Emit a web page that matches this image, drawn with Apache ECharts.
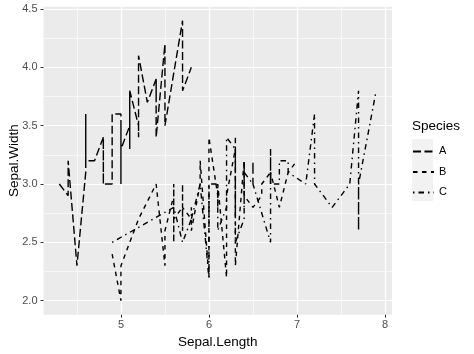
<!DOCTYPE html>
<html>
<head>
<meta charset="utf-8" />
<title></title>
<script src="https://cdn.jsdelivr.net/npm/echarts@6.0.0/dist/echarts.min.js"></script>
<style>
  html, body { margin: 0; padding: 0; background: #fff; }
  #main { width: 474px; height: 354px; }
</style>
</head>
<body>
<div id="main"></div>
<script type="text/javascript">
/* data: iris Sepal.Length / Sepal.Width by species, in row order */
var lenA = [5.1,4.9,4.7,4.6,5.0,5.4,4.6,5.0,4.4,4.9,5.4,4.8,4.8,4.3,5.8,5.7,5.4,5.1,5.7,5.1,5.4,5.1,4.6,5.1,4.8,5.0,5.0,5.2,5.2,4.7,4.8,5.4,5.2,5.5,4.9,5.0,5.5,4.9,4.4,5.1,5.0,4.5,4.4,5.0,5.1,4.8,5.1,4.6,5.3,5.0];
var widA = [3.5,3.0,3.2,3.1,3.6,3.9,3.4,3.4,2.9,3.1,3.7,3.4,3.0,3.0,4.0,4.4,3.9,3.5,3.8,3.8,3.4,3.7,3.6,3.3,3.4,3.0,3.4,3.5,3.4,3.2,3.1,3.4,4.1,4.2,3.1,3.2,3.5,3.6,3.0,3.4,3.5,2.3,3.2,3.5,3.8,3.0,3.8,3.2,3.7,3.3];
var lenB = [7.0,6.4,6.9,5.5,6.5,5.7,6.3,4.9,6.6,5.2,5.0,5.9,6.0,6.1,5.6,6.7,5.6,5.8,6.2,5.6,5.9,6.1,6.3,6.1,6.4,6.6,6.8,6.7,6.0,5.7,5.5,5.5,5.8,6.0,5.4,6.0,6.7,6.3,5.6,5.5,5.5,6.1,5.8,5.0,5.6,5.7,5.7,6.2,5.1,5.7];
var widB = [3.2,3.2,3.1,2.3,2.8,2.8,3.3,2.4,2.9,2.7,2.0,3.0,2.2,2.9,2.9,3.1,3.0,2.7,2.2,2.5,3.2,2.8,2.5,2.8,2.9,3.0,2.8,3.0,2.9,2.6,2.4,2.4,2.7,2.7,3.0,3.4,3.1,2.3,3.0,2.5,2.6,3.0,2.6,2.3,2.7,3.0,2.9,2.9,2.5,2.8];
var lenC = [6.3,5.8,7.1,6.3,6.5,7.6,4.9,7.3,6.7,7.2,6.5,6.4,6.8,5.7,5.8,6.4,6.5,7.7,7.7,6.0,6.9,5.6,7.7,6.3,6.7,7.2,6.2,6.1,6.4,7.2,7.4,7.9,6.4,6.3,6.1,7.7,6.3,6.4,6.0,6.9,6.7,6.9,5.8,6.8,6.7,6.7,6.3,6.5,6.2,5.9];
var widC = [3.3,2.7,3.0,2.9,3.0,3.0,2.5,2.9,2.5,3.6,3.2,2.7,3.0,2.5,2.8,3.2,3.0,3.8,2.6,2.2,3.2,2.8,2.8,2.7,3.3,3.2,2.8,3.0,2.8,3.0,2.8,3.8,2.8,2.8,2.6,3.0,3.4,3.1,3.0,3.1,3.1,3.1,2.7,3.2,3.3,3.0,2.5,3.0,3.4,3.0];

var speciesNames = ['A', 'B', 'C'];
var xTicks = [5, 6, 7, 8];
var xMinor = [4.5, 5.5, 6.5, 7.5];
var yTicks = [2.0, 2.5, 3.0, 3.5, 4.0, 4.5];
var yMinor = [2.25, 2.75, 3.25, 3.75, 4.25];

/* geom_line joins points in x order (stable sort keeps row order on ties) */
function pairs(xs, ys) {
    var p = xs.map(function (x, i) { return [x, ys[i]]; });
    return p.sort(function (a, b) { return a[0] - b[0]; });
}

var dashes = [[8, 3.5], [4.5, 4.5], [1.5, 4, 5.5, 4]];
var allData = [pairs(lenA, widA), pairs(lenB, widB), pairs(lenC, widC)];

var font = 'Liberation Sans, Arial, sans-serif';
var xMin = 4.12, xMax = 8.08, yMin = 1.88, yMax = 4.52;

function minorAxis(vals, extra) {
    return {
        type: 'value', min: extra.min, max: extra.max, position: extra.position,
        axisLine: { show: false, onZero: false },
        axisTick: { show: false, customValues: vals },
        axisLabel: { show: false, customValues: vals },
        splitLine: { show: true, lineStyle: { color: '#ffffff', width: 0.6 } }
    };
}

/* one legend block per key so the rows sit 20.5px apart like ggplot's keys */
var legendTops = [145, 165.5, 186];
var legends = speciesNames.map(function (name, i) {
    return {
        orient: 'vertical', left: 412, top: legendTops[i], padding: 0,
        itemWidth: 21, itemHeight: 16, itemGap: 0,
        itemStyle: { opacity: 0 },
        selectedMode: false,
        textStyle: { fontFamily: font, fontSize: 11, color: '#000' },
        data: [name]
    };
});

var chart = echarts.init(document.getElementById('main'), null, { renderer: 'canvas' });

var option = {
    animation: false,
    backgroundColor: '#ffffff',
    textStyle: { fontFamily: font },
    grid: {
        left: 43.5, right: 82, top: 6.7, bottom: 39.3,
        outerBoundsMode: 'none', containLabel: false,
        show: true, backgroundColor: '#EBEBEB', borderWidth: 0
    },
    title: {
        text: 'Species', left: 412, top: 119, padding: 0,
        textStyle: { fontFamily: font, fontSize: 13.5, fontWeight: 'normal', color: '#000' }
    },
    legend: legends,
    graphic: [{
        type: 'rect', left: 412, top: 139, z: -1,
        shape: { width: 21, height: 62 },
        style: { fill: '#F2F2F2' }
    }],
    xAxis: [{
        type: 'value', min: xMin, max: xMax,
        name: 'Sepal.Length', nameLocation: 'middle', nameGap: 19,
        nameTextStyle: { fontFamily: font, fontSize: 13.5, color: '#000' },
        axisLine: { show: false, onZero: false },
        axisTick: { show: true, length: 3, customValues: xTicks, lineStyle: { color: '#333333', width: 1 } },
        axisLabel: { customValues: xTicks, margin: 5, fontSize: 11, color: '#4D4D4D', fontFamily: font },
        splitLine: { show: true, lineStyle: { color: '#ffffff', width: 1.2 } }
    }, minorAxis(xMinor, { min: xMin, max: xMax, position: 'bottom' })],
    yAxis: [{
        type: 'value', min: yMin, max: yMax,
        name: 'Sepal.Width', nameLocation: 'middle', nameGap: 22, nameMoveOverlap: false,
        nameTextStyle: { fontFamily: font, fontSize: 13.5, color: '#000' },
        axisLine: { show: false, onZero: false },
        axisTick: { show: true, length: 3, customValues: yTicks, lineStyle: { color: '#333333', width: 1 } },
        axisLabel: {
            customValues: yTicks, margin: 6, fontSize: 11, color: '#4D4D4D', fontFamily: font,
            formatter: function (v) { return v.toFixed(1); }
        },
        splitLine: { show: true, lineStyle: { color: '#ffffff', width: 1.2 } }
    }, minorAxis(yMinor, { min: yMin, max: yMax, position: 'left' })],
    series: speciesNames.map(function (name, i) {
        return {
            name: name,
            type: 'line',
            xAxisIndex: 0, yAxisIndex: 0,
            data: allData[i],
            symbol: 'none',
            showSymbol: false,
            smooth: false,
            color: '#000000',
            lineStyle: { color: '#000000', width: 1.4, type: dashes[i] }
        };
    })
};

chart.setOption(option);
</script>
</body>
</html>
